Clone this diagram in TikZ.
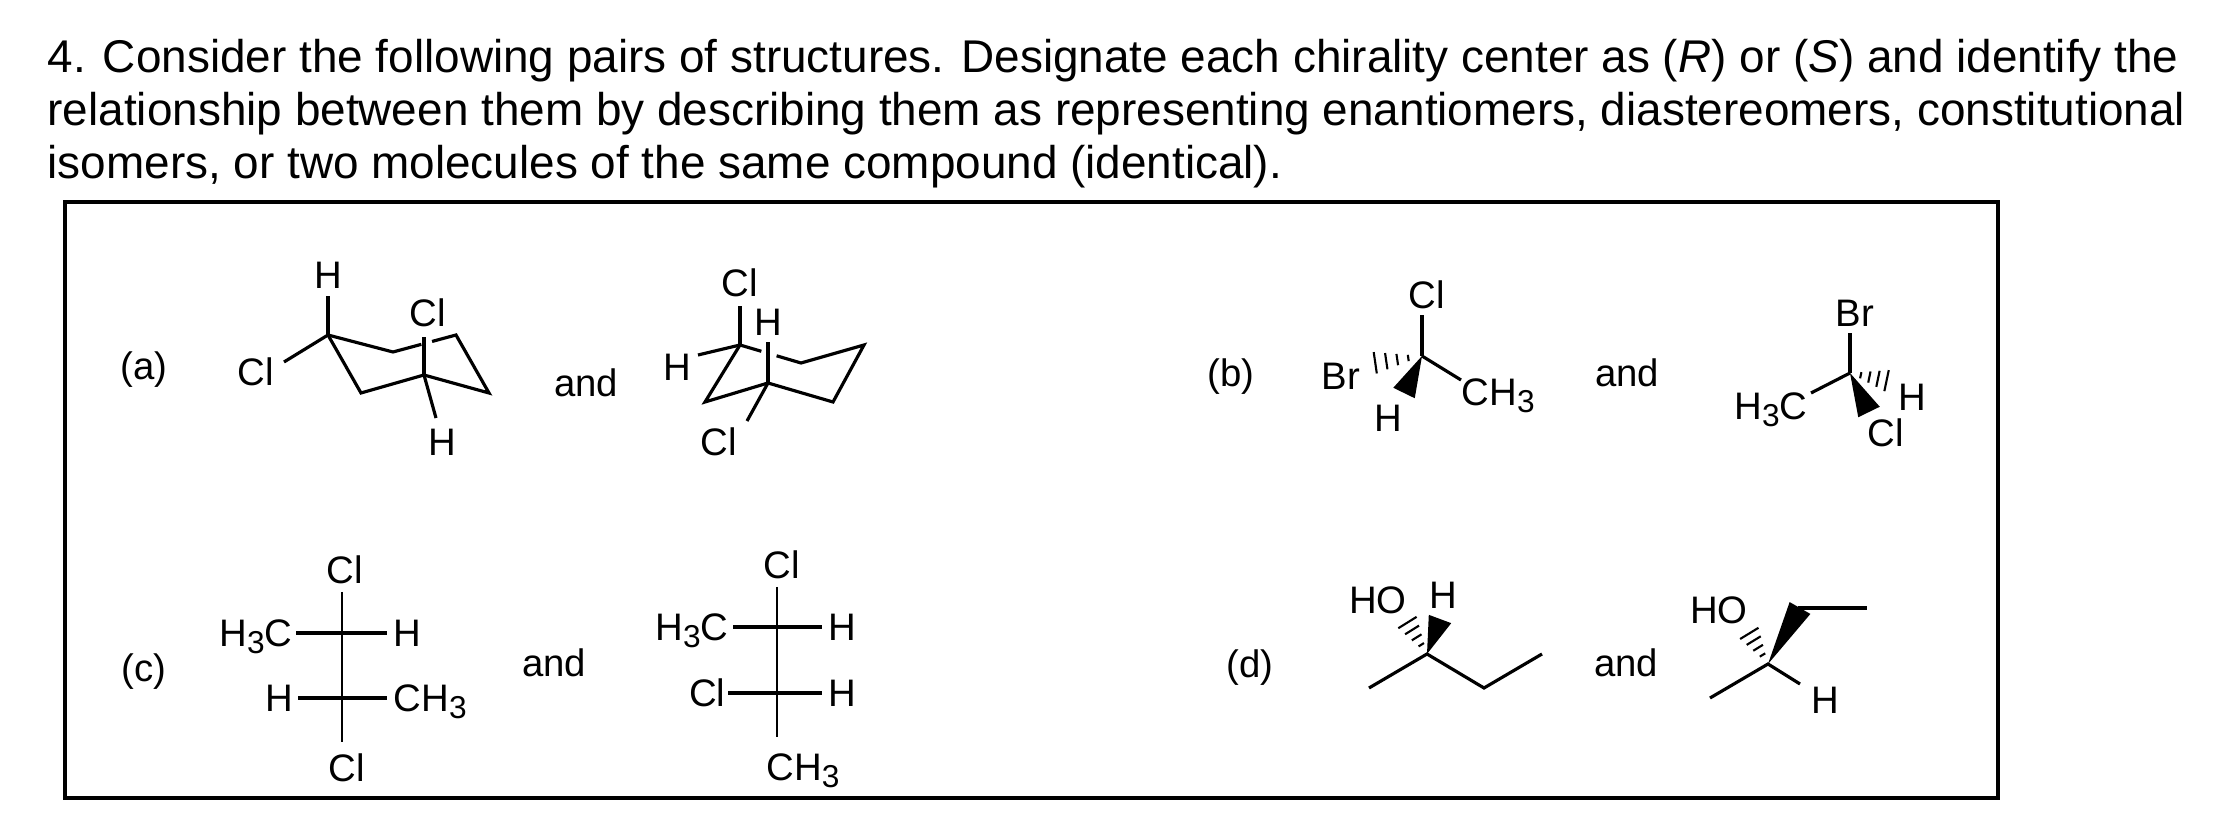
\documentclass[tikz,border=0pt]{standalone}
\usepackage{fontspec}
\setmainfont{Liberation Sans}
\usetikzlibrary{calc}
\begin{document}
\begin{tikzpicture}[x=0.01cm,y=-0.01cm,
  bond/.style={line width=0.9pt},
  lab/.style={inner sep=0pt,font=\fontsize{10.9}{13}\selectfont},
  ttl/.style={inner sep=0pt,anchor=base west,font=\fontsize{13.05}{15}\selectfont}]
\useasboundingbox (0,0) rectangle (2224,822);
\newcommand{\hashb}[2]{\foreach \t in {0.25,0.45,0.65,0.85}{\pgfmathsetmacro\ww{\t*3.6}\draw[line width=0.6pt] ($($(#1)!\t!(#2)$)!\ww pt!90:(#2)$) -- ($($(#1)!\t!(#2)$)!\ww pt!-90:(#2)$);}}
\newcommand{\wedgeb}[2]{\fill (#1) -- ($(#2)!3.4pt!90:(#1)$) -- ($(#2)!3.4pt!-90:(#1)$) -- cycle;}
\newcommand{\sbt}{\raisebox{-0.35ex}{\fontsize{9}{9}\selectfont 3}}
% title
\node[ttl] (t1) at (47,73) {4. Consider the following pairs of structures. Designate each chirality center as (\textit{R}) or (\textit{S}) and identify the};
\node[ttl] (t2) at (47,126) {relationship between them by describing them as representing enantiomers, diastereomers, constitutional};
\node[ttl] (t3) at (47,179) {isomers, or two molecules of the same compound (identical).};
\draw[line width=1.2pt] (65,202) rectangle (1998,798);
% (a)
\node[lab] (la) at (144,370) {(a)};
\coordinate (A1) at (328,335); \coordinate (A2) at (393,352); \coordinate (A3) at (456,335);
\coordinate (A4) at (489,393); \coordinate (A5) at (424,375); \coordinate (A6) at (361,393);
\draw[bond] (A1)--(A2)--($(A2)!0.45!(A3)$); \draw[bond] ($(A2)!0.62!(A3)$)--(A3)--(A4)--(A5)--(A6)--(A1);
\node[lab] (aCl1) at (256,372) {Cl}; \draw[bond] (A1)--(284,362);
\node[lab] (aH1) at (328,275) {H}; \draw[bond] (A1)--(328,296);
\node[lab] (aCl2) at (428,313) {Cl}; \draw[bond] (A5)--(424,337);
\node[lab] (aH2) at (442,442) {H}; \draw[bond] (A5)--(436,418);
\node[lab] (and1) at (586,383) {and};
\coordinate (B1) at (740,345); \coordinate (B2) at (801,363); \coordinate (B3) at (864,345);
\coordinate (B4) at (833,402); \coordinate (B5) at (768,383); \coordinate (B6) at (705,402);
\draw[bond] (B1)--($(B1)!0.35!(B2)$); \draw[bond] ($(B1)!0.6!(B2)$)--(B2)--(B3)--(B4)--(B5)--(B6)--(B1);
\node[lab] (bCl1) at (740,283) {Cl}; \draw[bond] (B1)--(740,306);
\node[lab] (bH1) at (677,367) {H}; \draw[bond] (B1)--(698,355);
\node[lab] (bH2) at (768,322) {H}; \draw[bond] (B5)--(768,342);
\node[lab] (bCl2) at (719,442) {Cl}; \draw[bond] (B5)--(747,421);
% (b)
\node[lab] (lb) at (1231,377) {(b)};
\coordinate (C1) at (1422,356);
\node[lab] (cCl) at (1427,295) {Cl}; \draw[bond] (C1)--(1422,315);
\node[lab] (cBr) at (1341,376) {Br}; \coordinate (cBrE) at (1367,364); \hashb{C1}{cBrE}
\coordinate (cHE) at (1404,393); \wedgeb{C1}{cHE}
\node[lab] (cH) at (1388,418) {H};
\draw[bond] (C1)--(1461,380);
\node[lab,anchor=west] (cMe) at (1461,396) {CH\sbt};
\node[lab] (and2) at (1627,373) {and};
\coordinate (D1) at (1850,373);
\node[lab] (dBr) at (1855,313) {Br}; \draw[bond] (D1)--(1850,333);
\draw[bond] (D1)--(1811,393);
\node[lab,anchor=east] (dMe) at (1808,410) {H\sbt C};
\coordinate (dHE) at (1893,382); \hashb{D1}{dHE}
\node[lab] (dH) at (1912,397) {H};
\coordinate (dClE) at (1869,412); \wedgeb{D1}{dClE}
\node[lab] (dCl) at (1886,433) {Cl};
% (c)
\node[lab] (lc) at (144,672) {(c)};
\draw[line width=0.7pt] (342,592)--(342,742);
\draw[bond] (296,633)--(387,633); \draw[bond] (298,698)--(387,698);
\node[lab,anchor=east] (eMe1) at (293,637) {H\sbt C};
\node[lab] (eCl1) at (345,570) {Cl};
\node[lab,anchor=west] (eH1) at (393,633) {H};
\node[lab,anchor=east] (eH2) at (294,698) {H};
\node[lab,anchor=west] (eMe2) at (393,702) {CH\sbt};
\node[lab] (eCl2) at (347,768) {Cl};
\node[lab] (and3) at (554,663) {and};
\draw[line width=0.7pt] (777,587)--(777,737);
\draw[bond] (733,627)--(822,627); \draw[bond] (728,693)--(822,693);
\node[lab] (fCl1) at (782,565) {Cl};
\node[lab,anchor=east] (fMe1) at (729,631) {H\sbt C};
\node[lab,anchor=west] (fH1) at (828,627) {H};
\node[lab,anchor=east] (fCl2) at (726,693) {Cl};
\node[lab,anchor=west] (fH2) at (828,693) {H};
\node[lab] (fMe2) at (803,771) {CH\sbt};
% (d)
\node[lab] (ld) at (1250,668) {(d)};
\coordinate (G1) at (1427,654);
\draw[bond] (1369,688)--(G1)--(1484,688)--(1542,654);
\coordinate (gWE) at (1440,619); \wedgeb{G1}{gWE}
\node[lab] (gH) at (1443,595) {H};
\coordinate (gHO) at (1404,617); \hashb{G1}{gHO}
\node[lab] (gOH) at (1378,600) {HO};
\node[lab] (and4) at (1626,663) {and};
\coordinate (K1) at (1768,664);
\draw[bond] (1710,698)--(K1)--(1800,684);
\node[lab] (kH) at (1825,700) {H};
\coordinate (kWE) at (1800,608); \wedgeb{K1}{kWE}
\draw[bond] (1798,608)--(1867,608);
\coordinate (kHO) at (1746,628); \hashb{K1}{kHO}
\node[lab] (kOH) at (1719,610) {HO};
\end{tikzpicture}
\end{document}
